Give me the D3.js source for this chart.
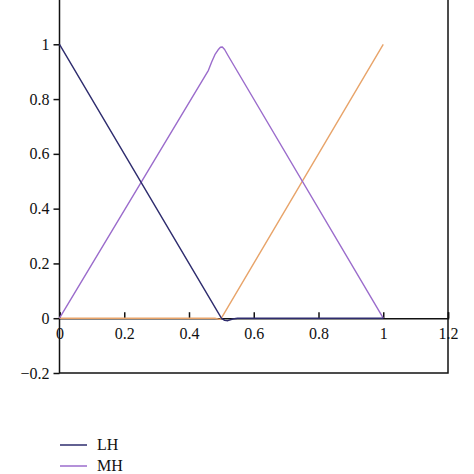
<!DOCTYPE html>
<html>
<head>
<meta charset="utf-8">
<script src="https://cdn.jsdelivr.net/npm/d3@7"></script>
<style>
  body { margin: 0; background: #fff; }
  text { font-family: "Liberation Serif", "DejaVu Serif", serif; }
</style>
</head>
<body>
<div id="chart"></div>
<script>
// membership curves
const lhX = [0, 0.5, 0.51, 0.52, 0.535, 0.55, 1];
const lhY = [1, 0, -0.008, -0.009, -0.003, 0, 0];
const mhX = [0, 0.46, 0.47, 0.48, 0.49, 0.497, 0.503, 0.51, 0.52, 1];
const mhY = [0, 0.905, 0.935, 0.962, 0.98, 0.989, 0.99, 0.981, 0.96, 0];
const hhX = [0, 0.48, 0.495, 0.5, 1];
const hhY = [0, 0, -0.004, 0, 1];

const seriesNames = ["LH", "MH", "HH"];
const seriesColors = ["#2e2c6e", "#9b6ccc", "#e8a46a"];
const xTicks = [0, 0.2, 0.4, 0.6, 0.8, 1, 1.2];
const yTicks = [-0.2, 0, 0.2, 0.4, 0.6, 0.8, 1];

const W = 474, H = 474;
const plotLeft = 59.5, plotRight = 448, plotTop = -10.5, plotBottom = 373;

const svg = d3.select("#chart").append("svg")
    .attr("width", W)
    .attr("height", H);

const x = d3.scaleLinear().domain([0, 1.2]).range([plotLeft, plotRight]);
const y = d3.scaleLinear().domain([-0.2, 1.2]).range([plotBottom, plotTop]);

const fmt = d => d < 0 ? "\u2212" + Math.abs(d) : String(d);

// frame
svg.append("rect")
    .attr("x", plotLeft).attr("y", plotTop)
    .attr("width", plotRight - plotLeft).attr("height", plotBottom - plotTop)
    .attr("fill", "none")
    .attr("stroke", "#111")
    .attr("stroke-width", 1.5);

// y axis
svg.append("g")
    .attr("transform", `translate(${plotLeft},0)`)
    .style("font-size", "16px")
    .call(d3.axisLeft(y).tickValues(yTicks).tickFormat(fmt).tickSize(6).tickPadding(4))
    .call(g => g.select(".domain").remove())
    .call(g => g.selectAll(".tick line").attr("stroke", "#111").attr("stroke-width", 1.5))
    .call(g => g.selectAll(".tick text").attr("fill", "#111").attr("font-family", "Liberation Serif"));

// x axis along y = 0, ticks pointing up
svg.append("g")
    .attr("transform", `translate(0,${y(0)})`)
    .style("font-size", "16px")
    .call(d3.axisBottom(x).tickValues(xTicks).tickFormat(fmt).tickSize(-6).tickPadding(4))
    .call(g => g.select(".domain").attr("stroke", "#111").attr("stroke-width", 1.5))
    .call(g => g.selectAll(".tick line").attr("stroke", "#111").attr("stroke-width", 1.5))
    .call(g => g.selectAll(".tick text").attr("fill", "#111").attr("dy", "1.05em").attr("font-family", "Liberation Serif"));

const line = d3.line()
    .x(d => x(d[0]))
    .y(d => y(d[1]));

const series = [
    d3.zip(lhX, lhY),
    d3.zip(mhX, mhY),
    d3.zip(hhX, hhY)
];

// draw orange first so the others sit on top
[2, 1, 0].forEach(i => {
    svg.append("path")
        .datum(series[i])
        .attr("fill", "none")
        .attr("stroke", seriesColors[i])
        .attr("stroke-width", 1.4)
        .attr("stroke-linejoin", "round")
        .attr("d", line);
});

// legend (third entry falls below the visible area, as in the source)
const legend = svg.append("g");
seriesNames.forEach((name, i) => {
    const ly = 445 + i * 21;
    legend.append("line")
        .attr("x1", 60).attr("x2", 87)
        .attr("y1", ly).attr("y2", ly)
        .attr("stroke", seriesColors[i])
        .attr("stroke-width", 1.5);
    legend.append("text")
        .attr("x", 97).attr("y", ly + 4.5)
        .style("font-size", "16px")
        .attr("fill", "#111")
        .text(name);
});
</script>
</body>
</html>
